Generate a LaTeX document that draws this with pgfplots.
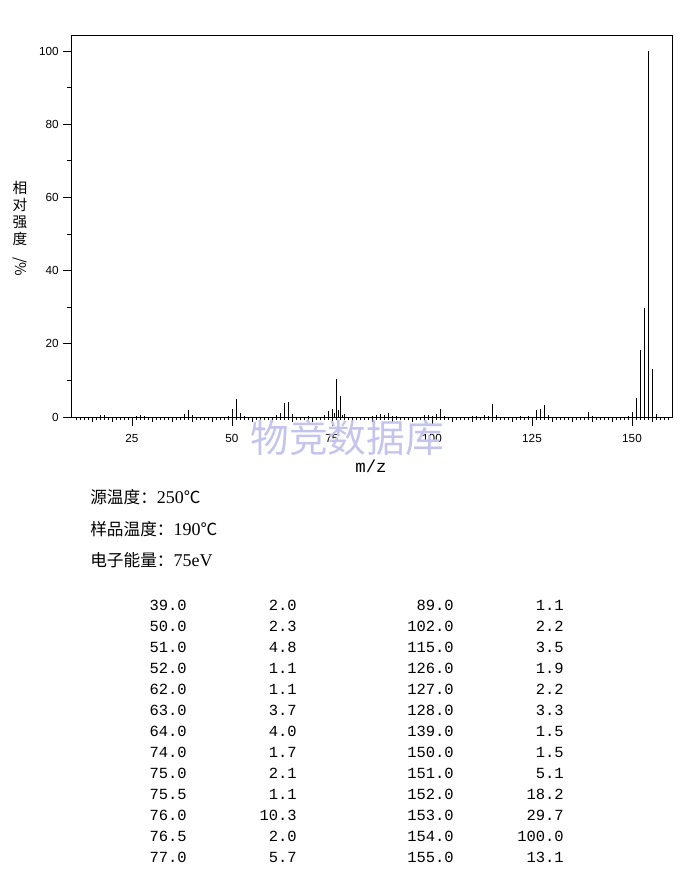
\documentclass[border=0pt]{standalone}
\usepackage{pgfplots}
\pgfplotsset{compat=1.18}
\usepackage{fontspec}
\setmainfont{Liberation Sans}
\newfontfamily\cjk{Noto Sans CJK SC}
\newfontfamily\mono{Liberation Mono}
\newfontfamily\serifd{Liberation Serif}
\definecolor{wm}{RGB}{196,196,236}
\begin{document}
\begin{tikzpicture}[x=0.75pt,y=-0.75pt]
\path[use as bounding box] (0,0) rectangle (696,879);
\begin{axis}[
  at={(54pt,-312.75pt)}, anchor=south west,
  scale only axis, width=450pt, height=286.5pt,
  xmin=10, xmax=160, ymin=0, ymax=104.37,
  axis line style={line width=0.75pt},
  tick align=outside, tick pos=left,
  every tick/.style={black, line width=0.7pt},
  major tick length=6.5pt, minor tick length=2.3pt,
  xtick={25,50,75,100,125,150},
  minor xtick={11,12,13,14,16,17,18,19,21,22,23,24,26,27,28,29,31,32,33,34,36,37,38,39,41,42,43,44,46,47,48,49,51,52,53,54,56,57,58,59,61,62,63,64,66,67,68,69,71,72,73,74,76,77,78,79,81,82,83,84,86,87,88,89,91,92,93,94,96,97,98,99,101,102,103,104,106,107,108,109,111,112,113,114,116,117,118,119,121,122,123,124,126,127,128,129,131,132,133,134,136,137,138,139,141,142,143,144,146,147,148,149,151,152,153,154,156,157,158,159},
  extra x ticks={15,20,30,35,40,45,55,60,65,70,80,85,90,95,105,110,115,120,130,135,140,145,155},
  extra x tick labels={},
  extra x tick style={major tick length=3.8pt},
  ytick={0,20,40,60,80,100},
  extra y ticks={10,30,50,70,90},
  extra y tick labels={},
  extra y tick style={major tick length=3.8pt},
  /pgf/number format/assume math mode=true,
  tick label style={font=\fontsize{8.8}{10}\selectfont},
  xticklabel style={yshift=-3pt},
]
\addplot[ycomb, no marks, black, line width=0.6pt] table {
x y
17 0.5
18 0.6
26 0.4
27 0.6
28 0.4
38 0.7
39 2.0
40 0.6
49 0.3
50 2.3
51 4.8
52 1.1
53 0.4
61 0.6
62 1.1
63 3.7
64 4.0
65 0.8
69 0.3
73 0.5
74 1.7
75 2.1
75.5 1.1
76 10.3
76.5 2.0
77 5.7
77.5 0.5
78 0.9
85 0.3
86 0.5
87 0.8
88 0.6
89 1.1
90 0.4
91 0.3
98 0.5
99 0.5
100 0.4
101 0.8
102 2.2
103 0.4
110 0.3
111 0.3
113 0.5
114 0.4
115 3.5
116 0.5
122 0.3
124 0.4
126 1.9
127 2.2
128 3.3
129 0.5
139 1.5
140 0.4
149 0.3
150 1.5
151 5.1
152 18.2
153 29.7
154 100
155 13.1
156 0.8
};
\end{axis}
% watermark
\node[text=wm, font=\cjk\fontsize{29}{30}\selectfont, inner sep=0pt] at (347,438) {物竞数据库};
% axis labels
\node[font=\mono\fontsize{13}{14}\selectfont, inner sep=0pt] at (371,466) {m/z};
\node[font=\cjk\fontsize{11}{12.6}\selectfont, align=center, inner sep=0pt] at (20,229) {相\\对\\强\\度\\\raisebox{3pt}{\rotatebox{-90}{/\%}}};
% info lines
\node[anchor=base west, inner sep=0pt] at (90,503) {{\cjk\fontsize{12.5}{14}\selectfont 源温度：}{\serifd\fontsize{13.5}{14}\selectfont 250}{\cjk\fontsize{12.5}{14}\selectfont ℃}};
\node[anchor=base west, inner sep=0pt] at (90,535) {{\cjk\fontsize{12.5}{14}\selectfont 样品温度：}{\serifd\fontsize{13.5}{14}\selectfont 190}{\cjk\fontsize{12.5}{14}\selectfont ℃}};
\node[anchor=base west, inner sep=0pt] at (90,566) {{\cjk\fontsize{12.5}{14}\selectfont 电子能量：}{\serifd\fontsize{13.5}{14}\selectfont 75eV}};
% table
\foreach \a/\b/\c/\d [count=\i from 0] in {39.0/2.0/89.0/1.1,50.0/2.3/102.0/2.2,51.0/4.8/115.0/3.5,52.0/1.1/126.0/1.9,62.0/1.1/127.0/2.2,63.0/3.7/128.0/3.3,64.0/4.0/139.0/1.5,74.0/1.7/150.0/1.5,75.0/2.1/151.0/5.1,75.5/1.1/152.0/18.2,76.0/10.3/153.0/29.7,76.5/2.0/154.0/100.0,77.0/5.7/155.0/13.1}{
  \pgfmathsetmacro{\yy}{610+21.08*\i}
  \node[anchor=base east, inner sep=0pt, font=\mono\fontsize{11.6}{13}\selectfont] at (187,\yy) {\a};
  \node[anchor=base east, inner sep=0pt, font=\mono\fontsize{11.6}{13}\selectfont] at (297,\yy) {\b};
  \node[anchor=base east, inner sep=0pt, font=\mono\fontsize{11.6}{13}\selectfont] at (454,\yy) {\c};
  \node[anchor=base east, inner sep=0pt, font=\mono\fontsize{11.6}{13}\selectfont] at (564,\yy) {\d};
}
\end{tikzpicture}
\end{document}
